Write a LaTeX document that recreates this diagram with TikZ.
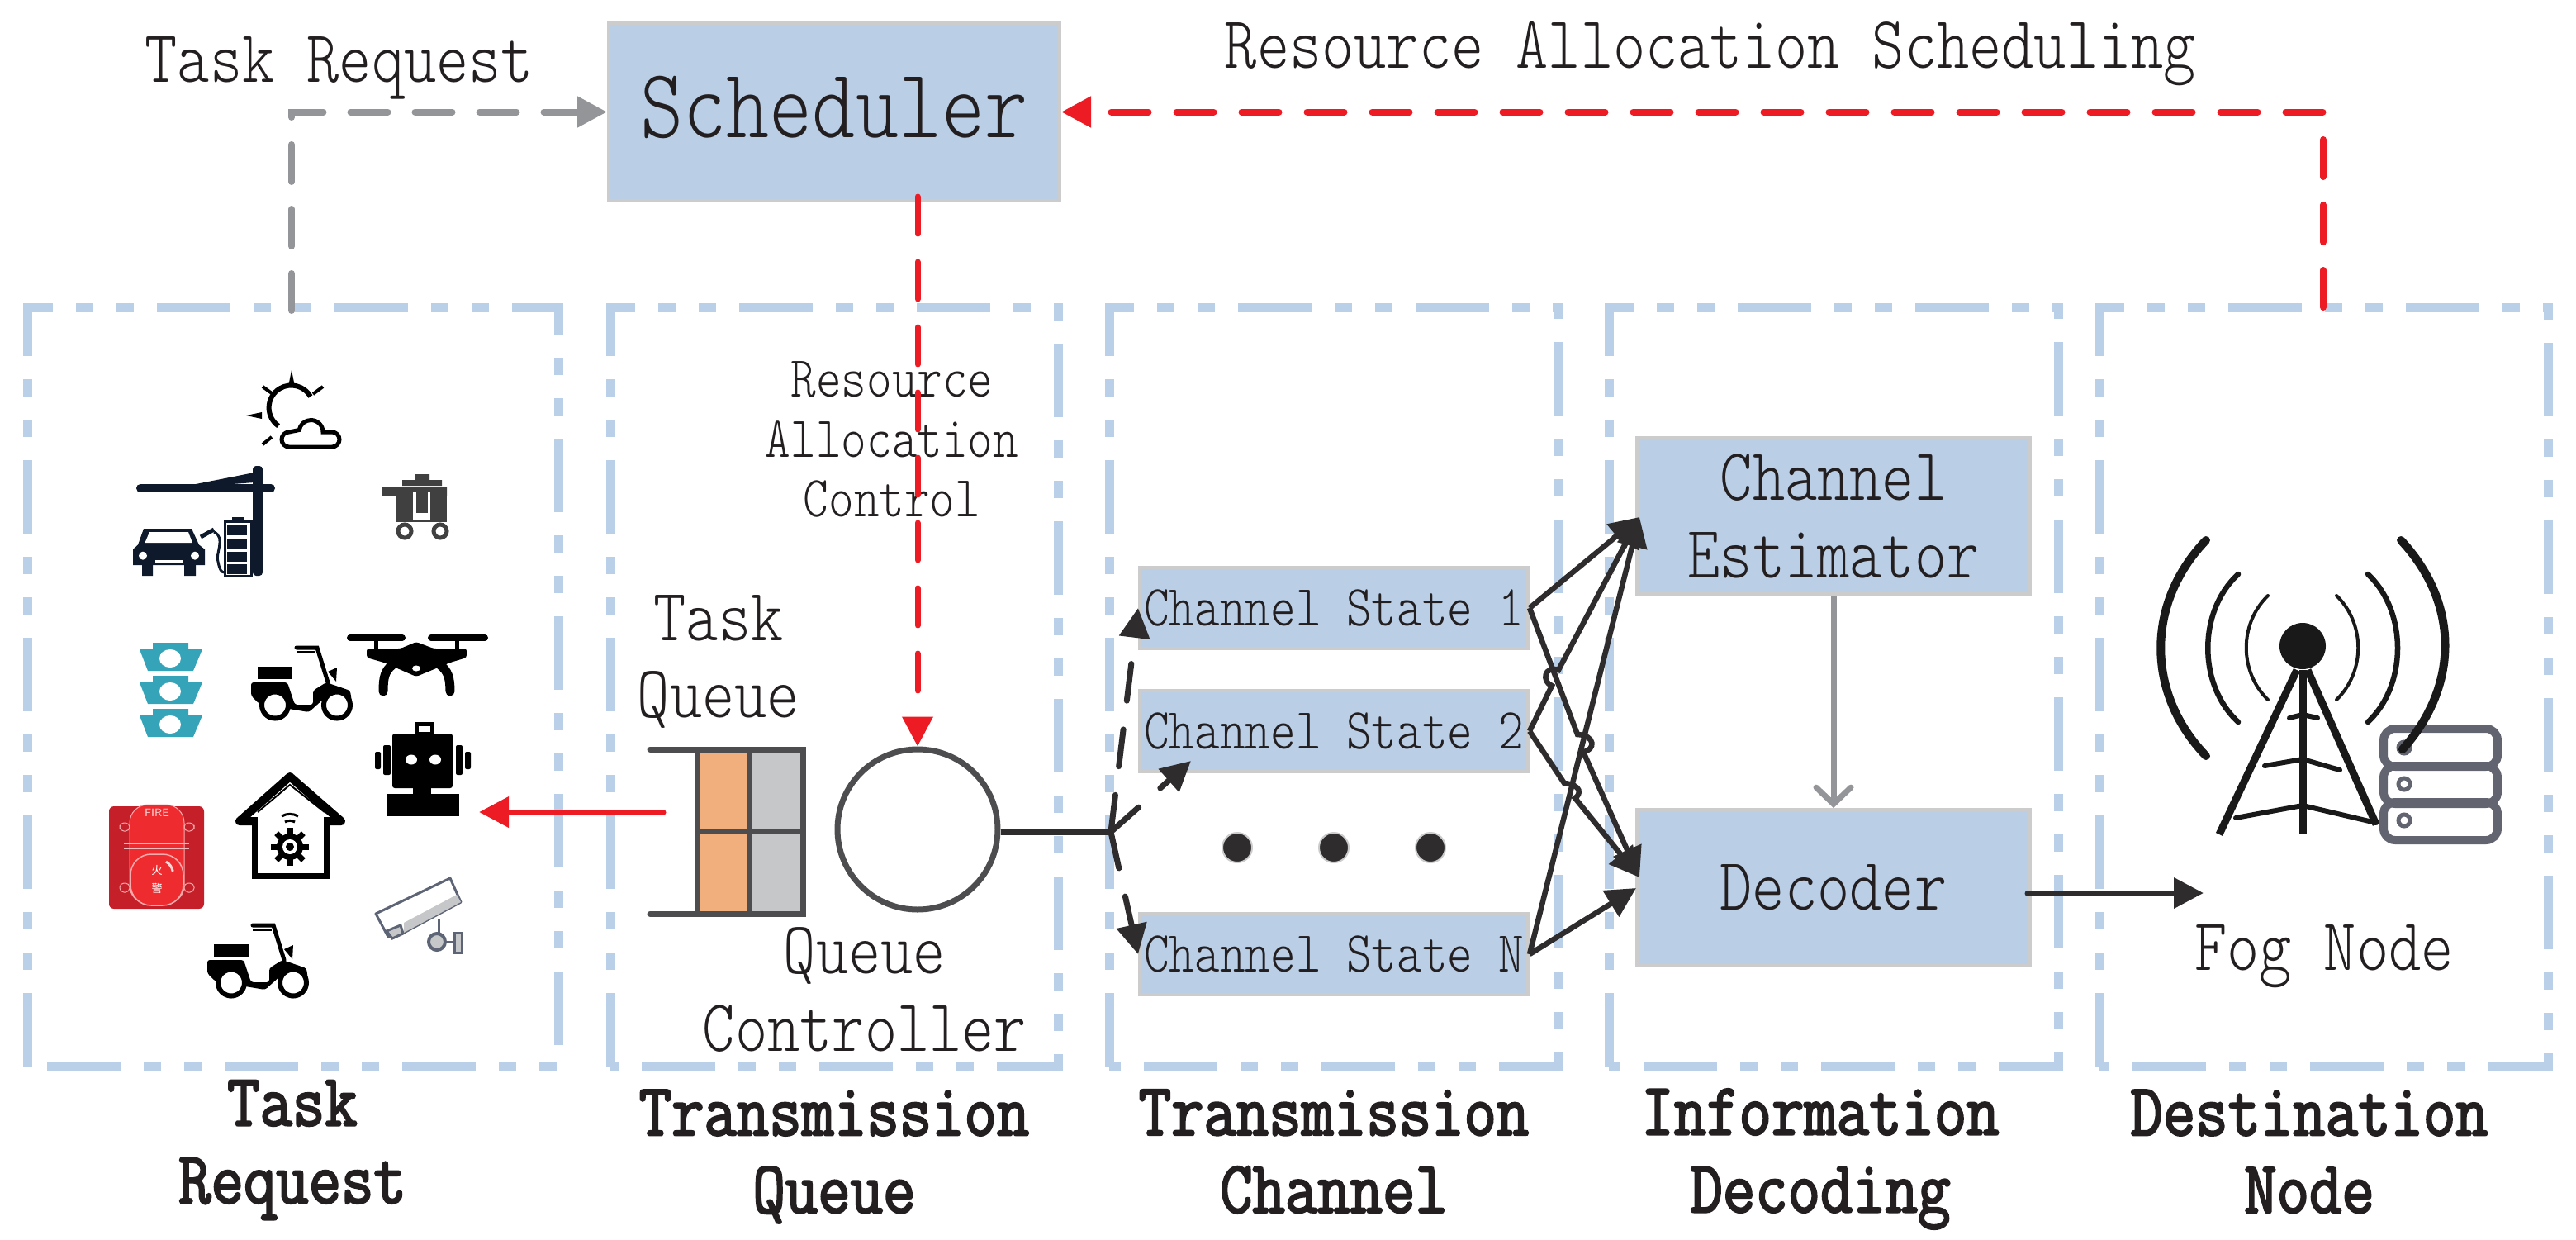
\documentclass[tikz,border=0pt]{standalone}
\usepackage{fontspec}
\usepackage{tikz}
\usetikzlibrary{arrows.meta}
\newfontfamily\simfont[FakeStretch=0.83]{Latin Modern Mono Light}
\newfontfamily\simbold[FakeStretch=0.85,FakeBold=2.5]{Latin Modern Mono}
\newfontfamily\cjk{Noto Sans CJK SC}
\definecolor{panelblue}{HTML}{BACFE8}
\definecolor{boxblue}{HTML}{BACEE6}
\definecolor{boxgray}{HTML}{CCCCCC}
\definecolor{redline}{HTML}{ED1C24}
\definecolor{grayline}{HTML}{939598}
\definecolor{darkline}{HTML}{2E2C2D}
\definecolor{txt}{HTML}{231F20}
\definecolor{qorange}{HTML}{F2AF7E}
\definecolor{qgray}{HTML}{C6C7C9}
\definecolor{qline}{HTML}{4D4D4F}
\definecolor{navy}{HTML}{0E1A2B}
\definecolor{teal}{HTML}{35A4B8}
\definecolor{alarm}{HTML}{C5202A}
\definecolor{alarmb}{HTML}{EE2B2F}
\definecolor{camline}{HTML}{5D6475}
\definecolor{srvline}{HTML}{62656F}
\tikzset{
  panel/.style={draw=panelblue,line width=.11cm,
    dash pattern=on .89cm off .28cm on .21cm off .28cm on .21cm off .28cm},
  bluebox/.style={draw=boxgray,fill=boxblue,line width=.04cm,inner sep=0pt,text=txt},
  statebox/.style={bluebox,minimum width=4.7cm,minimum height=.98cm,font=\simfont\fontsize{20}{24}\selectfont},
  bigbox/.style={bluebox,minimum width=4.76cm,minimum height=1.89cm,align=center,font=\simfont\fontsize{25.6}{26.7}\selectfont},
  lbl/.style={text=txt,inner sep=0pt,align=center,font=\simfont\fontsize{25.6}{26.7}\selectfont},
  smalllbl/.style={text=txt,inner sep=0pt,align=center,font=\simfont\fontsize{20}{20.7}\selectfont},
  head/.style={text=txt,inner sep=0pt,align=center,font=\simbold\fontsize{25.6}{26.7}\selectfont},
  conn/.style={draw=darkline,line width=.065cm},
  dashconn/.style={draw=darkline,line width=.07cm,line cap=round,dash pattern=on .45cm off .35cm},
  reddash/.style={draw=redline,line width=.08cm,line cap=round,dash pattern=on .45cm off .34cm},
  graydash/.style={draw=grayline,line width=.08cm,line cap=round,dash pattern=on .45cm off .33cm},
  scooter/.pic={
    \fill[black] (.08,-.25) rectangle (.50,-.40);
    \fill[black,rounded corners=.03cm] (0,-.44) -- (.44,-.44) -- (.53,-.71) -- (.75,-.71) -- (.75,-.54)
      -- (.91,-.44) -- (1.2,-.54) -- (1.22,-.68) -- (.9,-.62) -- (.7,-.8) -- (.1,-.7) -- (0,-.6) -- cycle;
    \draw[black,line width=.05cm,line cap=round] (.55,-.02) -- (.80,-.02) -- (.93,-.44);
    \draw[black,line width=.03cm] (.55,-.07) -- (.78,-.07);
    \fill[black] (.93,-.31) -- (1.04,-.26) -- (1.03,-.43) -- cycle;
    \draw[black,fill=white,line width=.06cm] (.29,-.715) circle (.16);
    \draw[black,fill=white,line width=.06cm] (1.04,-.715) circle (.16);
  },
}
\begin{document}
\begin{tikzpicture}[auto,thick,>={Triangle[length=.36cm,width=.36cm]}]
\useasboundingbox (0,0) rectangle (31.19,-15);

\draw[panel] (.34,-12.91) rectangle (6.76,-3.72);
\draw[panel] (7.39,-12.91) rectangle (12.81,-3.72);
\draw[panel] (13.43,-12.91) rectangle (18.87,-3.72);
\draw[panel] (19.48,-12.91) rectangle (24.92,-3.72);
\draw[panel] (25.42,-12.91) rectangle (30.85,-3.72);

\draw
    node at (10.10,-1.355)[bluebox,minimum width=5.46cm,minimum height=2.15cm,text depth=.12cm,font=\simfont\fontsize{34}{36}\selectfont,name=sched]{Scheduler}
    node at (16.15,-7.36)[statebox,name=st1]{Channel State 1}
    node at (16.15,-8.85)[statebox,name=st2]{Channel State 2}
    node at (16.15,-11.55)[statebox,name=stn]{Channel State N}
    node at (22.20,-6.245)[bigbox,name=est]{Channel\\Estimator}
    node at (22.20,-10.745)[bigbox,name=dec]{Decoder}

    node at (11.11,-10.04)[circle,draw=qline,line width=.07cm,minimum size=1.94cm,inner sep=0pt,name=qc]{}

    node at (4.11,-.82)[lbl,name=reqtop]{Task Request}
    node at (20.71,-.65)[lbl,name=alloctop]{Resource Allocation Scheduling}
    node at (10.80,-5.32)[smalllbl,name=ctl]{Resource\\Allocation\\Control}
    node at (8.70,-8.01)[lbl,name=tq]{Task\\Queue}
    node at (10.47,-11.98)[lbl,name=qctl]{Queue\\Controller}
    node at (28.14,-11.58)[lbl,name=fog]{Fog Node}

    node at (3.54,-13.92)[head,name=h1]{Task\\Request}
    node at (10.10,-14.00)[head,name=h2]{Transmission\\Queue}
    node at (16.15,-13.94)[head,name=h3]{Transmission\\Channel}
    node at (22.04,-14.03)[head,name=h4]{Information\\Decoding}
    node at (27.96,-13.94)[head,name=h5]{Destination\\Node}
;

\foreach \i/\x in {1/14.98,2/16.15,3/17.32}
    \node[circle,fill=darkline,draw=boxgray,line width=.02cm,minimum size=.36cm,inner sep=0pt,name=dot\i] at (\x,-10.26) {};

% queue
\fill[qorange] (8.44,-9.07) rectangle (9.07,-10.06);
\fill[qorange] (8.44,-10.06) rectangle (9.07,-11.06);
\fill[qgray] (9.07,-9.07) rectangle (9.72,-10.06);
\fill[qgray] (9.07,-10.06) rectangle (9.72,-11.06);
\draw[qline,line width=.07cm,line cap=round] (7.87,-9.07) -- (9.72,-9.07) -- (9.72,-11.06) -- (7.87,-11.06);
\draw[qline,line width=.07cm] (8.44,-9.07) -- (8.44,-11.06);
\draw[qline,line width=.07cm] (9.07,-9.07) -- (9.07,-11.06);
\draw[qline,line width=.07cm] (8.44,-10.06) -- (9.72,-10.06);

\coordinate (junc) at (13.45,-10.07);
\coordinate (st2tip) at (14.42,-9.21);
\coordinate (reqfrom) at (3.53,-3.76);
\coordinate (allocfrom) at (28.13,-3.72);
\coordinate (ctlfrom) at (11.11,-2.38);
\coordinate (tqfrom) at (8.03,-9.83);
\coordinate (tqto) at (5.80,-9.83);
\coordinate (decfrom) at (24.55,-10.81);
\coordinate (fogto) at (26.68,-10.81);

\draw[graydash,->] (reqfrom) |- (sched.west);
\draw[reddash,->] (allocfrom) |- (sched.east);
\draw[reddash,line width=.07cm,->] (ctlfrom) -- (qc.north);
\draw[draw=redline,line width=.07cm,line cap=round,->] (tqfrom) -- (tqto);

\draw[draw=darkline,line width=.07cm] (qc.east |- junc) -- (junc);
\draw[dashconn,->] (junc) -- (st1.west);
\draw[dashconn,->] (junc) -- (st2tip);
\draw[dashconn,->] (junc) -- (stn.west);

\coordinate (esttip) at (19.85,-6.26);
\coordinate (dectip) at (19.85,-10.62);
\coordinate (dectipb) at (19.81,-10.75);
\draw[conn,->] (st1.east) -- (esttip);
\draw[conn,->] (stn.east) -- (esttip);
\draw[conn,->] (stn.east) -- (dectipb);
\draw[conn,->] (st2.east) -- (18.79,-8.30) .. controls (18.66,-8.25) and (18.70,-8.05) .. (18.87,-8.11) -- (esttip);
\draw[conn,->] (st1.east) -- (19.10,-8.89) .. controls (19.32,-8.90) and (19.32,-9.08) .. (19.17,-9.10) -- (dectip);
\draw[conn,->] (st2.east) -- (18.94,-9.48) .. controls (19.16,-9.50) and (19.14,-9.62) .. (19.07,-9.66) -- (dectip);

\draw[draw=grayline,line width=.07cm,-{Straight Barb[length=.2cm,width=.42cm,line cap=round]}] (est.south) -- (dec.north);
\draw[draw=darkline,line width=.07cm,line cap=round,->] (decfrom) -- (fogto);

% server
\foreach \y in {8.82,9.27,9.71}
    \draw[srvline,line width=.10cm,rounded corners=.14cm] (28.86,-\y) rectangle (30.24,-\y-.46);
\foreach \y in {9.05,9.49,9.93}
    \draw[srvline,line width=.05cm,fill=white] (29.11,-\y) circle (.07);

% tower
\begin{scope}[black!90,line cap=round]
\fill (27.88,-7.82) circle (.28);
\draw[line width=.10cm] (26.71,-6.54) .. controls (25.98,-7.30) and (25.98,-8.39) .. (26.71,-9.15);
\draw[line width=.065cm] (27.10,-6.95) .. controls (26.61,-7.40) and (26.61,-8.29) .. (27.10,-8.74);
\draw[line width=.04cm] (27.46,-7.21) .. controls (27.11,-7.55) and (27.11,-8.13) .. (27.46,-8.47);
\draw[line width=.10cm] (29.07,-6.54) .. controls (29.78,-7.30) and (29.78,-8.30) .. (29.09,-9.07);
\draw[line width=.065cm] (28.67,-6.95) .. controls (29.15,-7.40) and (29.15,-8.29) .. (28.67,-8.74);
\draw[line width=.04cm] (28.29,-7.21) .. controls (28.64,-7.55) and (28.64,-8.13) .. (28.29,-8.47);
\draw[line width=.09cm,line cap=butt] (27.81,-8.11) -- (26.87,-10.10);
\draw[line width=.09cm,line cap=butt] (27.94,-8.11) -- (28.77,-9.98);
\draw[line width=.09cm,line cap=butt] (27.88,-8.11) -- (27.88,-10.10);
\draw[line width=.06cm] (27.72,-8.69) -- (27.88,-8.65) -- (28.06,-8.69);
\draw[line width=.06cm] (27.42,-9.27) -- (27.88,-9.19) -- (28.33,-9.32);
\draw[line width=.06cm] (27.07,-9.90) -- (27.88,-9.75) -- (28.77,-9.96);
\end{scope}

% sun and cloud
\begin{scope}[navy]
\draw[black,line width=.06cm] (3.76,-4.80) arc (30:235:.27);
\fill[black] (3.49,-4.68) -- (3.53,-4.48) -- (3.57,-4.68) -- cycle;
\fill[black] (3.17,-4.99) -- (2.98,-5.03) -- (3.17,-5.07) -- cycle;
\draw[black,line width=.04cm] (3.18,-4.68) -- (3.29,-4.76);
\draw[black,line width=.04cm] (3.91,-4.68) -- (3.79,-4.77);
\draw[black,line width=.04cm] (3.18,-5.38) -- (3.29,-5.29);
\draw[black,fill=white,line width=.05cm] (3.50,-5.41) -- (4.02,-5.41) arc (-90:90:.09) -- (3.91,-5.23) arc (0:170:.145) -- (3.50,-5.23) arc (90:270:.09) -- cycle;
\end{scope}

% barrier, car, battery
\fill[navy,rounded corners=.04cm] (3.06,-5.64) rectangle (3.18,-6.97);
\draw[navy,line width=.10cm,line cap=round] (1.70,-5.91) -- (3.28,-5.91);
\fill[navy] (2.32,-5.87) -- (3.08,-5.72) -- (3.08,-5.84) -- (2.68,-5.87) -- cycle;
\fill[navy] (1.74,-6.40) -- (2.32,-6.40) -- (2.41,-6.595) -- (2.48,-6.65) -- (2.48,-6.84) -- (1.61,-6.84) -- (1.61,-6.65) -- (1.67,-6.595) -- cycle;
\fill[white] (1.81,-6.44) -- (2.28,-6.44) -- (2.33,-6.57) -- (1.755,-6.57) -- cycle;
\fill[white] (1.73,-6.727) circle (.05) (2.36,-6.727) circle (.05);
\fill[white] (1.875,-6.784) rectangle (2.21,-6.81);
\fill[navy] (1.72,-6.84) rectangle (1.85,-6.97) (2.23,-6.84) rectangle (2.37,-6.97);
\draw[navy,line width=.05cm] (2.43,-6.50) -- (2.59,-6.41);
\draw[navy,line width=.03cm] (2.59,-6.44) .. controls (2.74,-6.50) and (2.60,-6.72) .. (2.64,-6.80) .. controls (2.66,-6.90) and (2.68,-6.93) .. (2.72,-6.93);
\draw[navy,line width=.03cm] (2.72,-6.31) rectangle (3.04,-6.97);
\fill[navy] (2.81,-6.26) rectangle (2.95,-6.31);
\foreach \y in {6.36,6.53,6.68,6.83}
    \fill[navy] (2.75,-\y) rectangle (2.99,-\y-.12);

% cart
\fill[black!75] (5.02,-5.74) rectangle (5.20,-5.81) (4.87,-5.81) rectangle (5.35,-5.88) (4.63,-5.90) rectangle (5.41,-6.00);
\fill[black!75] (4.80,-5.90) rectangle (5.41,-6.32);
\fill[white] (5.00,-5.95) rectangle (5.21,-6.30);
\fill[black!75] (5.04,-5.95) rectangle (5.18,-6.21);
\draw[black!75,fill=white,line width=.05cm] (4.90,-6.43) circle (.08) (5.33,-6.43) circle (.08);

% traffic light
\foreach \i in {0,1,2}{
\begin{scope}[yshift=-.4*\i cm]
\fill[teal] (1.85,-7.78) -- (2.28,-7.78) -- (2.28,-7.86) -- (2.45,-7.86) -- (2.34,-8.12) -- (1.79,-8.12) -- (1.69,-7.86) -- (1.85,-7.86) -- cycle;
\fill[white] (2.06,-7.97) ellipse (.13 and .11);
\end{scope}
}

\pic at (3.04,-7.82) {scooter};
\pic at (2.51,-11.18) {scooter};

% drone
\begin{scope}[black,line cap=round]
\draw[line width=.08cm] (4.24,-7.72) -- (4.87,-7.72) (5.22,-7.72) -- (5.87,-7.72);
\draw[line width=.05cm] (4.55,-7.72) -- (4.55,-7.90) (5.53,-7.72) -- (5.53,-7.90);
\fill[rounded corners=.03cm] (4.44,-7.85) -- (4.85,-7.85) -- (5.04,-7.77) -- (5.25,-7.85) -- (5.65,-7.85) -- (5.65,-7.96) -- (5.45,-8.02) -- (5.04,-8.19) -- (4.65,-8.02) -- (4.44,-7.96) -- cycle;
\draw[line width=.11cm] (4.75,-8.05) .. controls (4.66,-8.12) and (4.64,-8.20) .. (4.64,-8.37);
\draw[line width=.11cm] (5.33,-8.05) .. controls (5.42,-8.12) and (5.45,-8.20) .. (5.45,-8.37);
\fill[white] (5.04,-8.09) ellipse (.05 and .035);
\end{scope}

% robot
\begin{scope}[black]
\draw[line width=.05cm] (5.04,-8.76) rectangle (5.23,-8.88);
\fill[rounded corners=.03cm] (4.75,-8.88) rectangle (5.48,-9.54);
\fill[white] (4.98,-9.195) ellipse (.07 and .06) (5.27,-9.195) ellipse (.07 and .06);
\fill[rounded corners=.02cm] (4.64,-9.02) rectangle (4.73,-9.38) (5.52,-9.02) rectangle (5.60,-9.38);
\fill[rounded corners=.02cm] (4.54,-9.10) rectangle (4.61,-9.31) (5.63,-9.10) rectangle (5.70,-9.31);
\fill (5.00,-9.54) rectangle (5.22,-9.63);
\fill (4.68,-9.61) rectangle (5.56,-9.88);
\end{scope}

% home
\begin{scope}[black]
\draw[line width=.10cm,line join=round] (2.90,-9.94) -- (3.51,-9.40) -- (4.13,-9.94) -- cycle;
\fill[white] (3.12,-9.85) -- (3.51,-9.50) -- (3.93,-9.85) -- cycle;
\draw[line width=.02cm] (3.12,-9.83) -- (3.51,-9.50) -- (3.93,-9.83);
\fill[white] (3.12,-9.85) rectangle (3.92,-10.00);
\draw[line width=.07cm] (3.08,-9.97) -- (3.08,-10.60) -- (3.95,-10.60) -- (3.95,-9.97);
\foreach \a in {0,45,...,315}
    \draw[line width=.07cm] (3.51,-10.25) -- ++(\a:.23);
\fill (3.51,-10.25) circle (.16);
\fill[white] (3.51,-10.25) circle (.09);
\fill (3.51,-10.25) circle (.05);
\draw[line width=.03cm] (3.41,-9.88) arc (120:60:.20);
\draw[line width=.03cm] (3.45,-9.95) arc (120:60:.12);
\end{scope}

% fire alarm
\fill[alarm,rounded corners=.06cm] (1.32,-9.76) rectangle (2.47,-11.00);
\draw[alarmb,fill=alarmb,rounded corners=.22cm,draw=white!60!alarmb,line width=.01cm] (1.57,-9.74) rectangle (2.23,-10.94);
\foreach \y in {9.97,10.03,...,10.28}
    \draw[white!70!alarm,line width=.01cm] (1.50,-\y) -- (2.29,-\y);
\draw[white!60!alarmb,fill=alarmb,rounded corners=.25cm,line width=.015cm] (1.58,-10.34) rectangle (2.22,-10.96);
\draw[white!60!alarmb,rounded corners=.05cm,line width=.01cm] (1.45,-9.96) rectangle (1.57,-10.06) (2.23,-9.96) rectangle (2.35,-10.06);
\draw[white!60!alarmb,rounded corners=.05cm,line width=.01cm] (1.45,-10.69) rectangle (1.57,-10.80) (2.23,-10.69) rectangle (2.35,-10.80);
\draw[white!80!alarmb,line width=.03cm] (2.01,-10.43) arc (60:10:.17);
\node[text=white!80!alarm,inner sep=0pt,font=\sffamily\fontsize{3.8}{4}\selectfont,name=firetxt] at (1.90,-9.84) {FIRE};
\node[text=white,inner sep=0pt,font=\cjk\fontsize{3.8}{4}\selectfont,name=fireb] at (1.90,-10.53) {火};
\node[text=white,inner sep=0pt,font=\cjk\fontsize{3.8}{4}\selectfont,name=firec] at (1.90,-10.75) {警};

% camera
\draw[camline,fill=white,line width=.03cm,line join=round] (4.55,-11.06) -- (5.45,-10.63) -- (5.58,-10.92) -- (4.89,-11.29) -- (4.70,-11.34) -- cycle;
\fill[qgray] (4.89,-11.17) -- (5.53,-10.83) -- (5.58,-10.92) -- (4.89,-11.29) -- cycle;
\draw[camline,fill=qgray,line width=.03cm] (4.68,-11.27) -- (4.85,-11.20) -- (4.88,-11.30) -- (4.75,-11.36) -- cycle;
\draw[camline,line width=.03cm] (5.31,-11.12) -- (5.31,-11.29) (5.36,-11.40) -- (5.50,-11.40);
\draw[camline,fill=qgray,line width=.04cm] (5.29,-11.40) circle (.10);
\draw[camline,fill=qgray,line width=.03cm] (5.50,-11.29) rectangle (5.59,-11.53);
\end{tikzpicture}
\end{document}
